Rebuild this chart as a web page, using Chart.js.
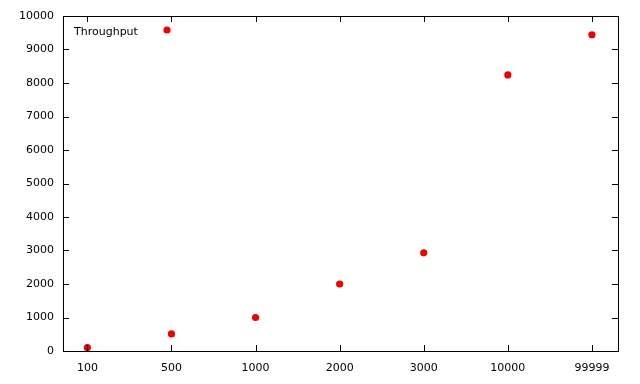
<!DOCTYPE html>
<html>
<head>
<meta charset="utf-8">
<script src="https://cdn.jsdelivr.net/npm/chart.js@4/dist/chart.umd.min.js"></script>
<style>
  html, body { margin: 0; padding: 0; background: #fff; }
  #wrap { width: 640px; height: 384px; }
</style>
</head>
<body>
<div id="wrap"><canvas id="chart" width="640" height="384"></canvas></div>
<script>
const categories = ["100", "500", "1000", "2000", "3000", "10000", "99999"]
const throughput = [100, 510, 1000, 2000, 2930, 8240, 9440]
const yTicks = [0, 1000, 2000, 3000, 4000, 5000, 6000, 7000, 8000, 9000, 10000]
const seriesLabel = "Throughput"

const FONT = { family: "'DejaVu Sans', sans-serif", size: 11 }
const RED = '#f00000'

// gnuplot style frame with inward ticks on all sides, plus key in the corner
const framePlugin = {
  id: 'frame',
  afterDraw(chart) {
    const { ctx, chartArea: a, scales } = chart
    ctx.save()
    ctx.strokeStyle = '#000'
    ctx.lineWidth = 1
    ctx.strokeRect(Math.round(a.left) + 0.5, Math.round(a.top) + 0.5,
      Math.round(a.right - a.left), Math.round(a.bottom - a.top))
    const len = 6
    ctx.beginPath()
    categories.forEach((c, i) => {
      const x = Math.round(scales.x.getPixelForValue(i)) + 0.5
      ctx.moveTo(x, a.bottom); ctx.lineTo(x, a.bottom - len)
      ctx.moveTo(x, a.top); ctx.lineTo(x, a.top + len)
    })
    yTicks.forEach(v => {
      const y = Math.round(scales.y.getPixelForValue(v)) + 0.5
      ctx.moveTo(a.left, y); ctx.lineTo(a.left + len, y)
      ctx.moveTo(a.right, y); ctx.lineTo(a.right - len, y)
    })
    ctx.stroke()

    // key
    ctx.font = FONT.size + 'px ' + FONT.family
    ctx.fillStyle = '#000'
    ctx.textBaseline = 'middle'
    ctx.textAlign = 'left'
    ctx.fillText(seriesLabel, a.left + 11, a.top + 16)
    ctx.fillStyle = RED
    ctx.beginPath()
    ctx.arc(a.left + 104, a.top + 14, 3.6, 0, Math.PI * 2)
    ctx.fill()
    ctx.restore()
  }
}

new Chart(document.getElementById('chart'), {
  type: 'scatter',
  data: {
    datasets: [{
      label: seriesLabel,
      data: throughput.map((v, i) => ({ x: i, y: v })),
      backgroundColor: RED,
      borderColor: RED,
      pointRadius: 3.6,
      pointBorderWidth: 0
    }]
  },
  options: {
    responsive: false,
    animation: false,
    layout: { padding: { top: 16, right: 22, left: 0, bottom: 0 } },
    plugins: { legend: { display: false }, tooltip: { enabled: false } },
    scales: {
      x: {
        type: 'linear',
        min: -0.29,
        max: 6.31,
        afterBuildTicks: s => { s.ticks = categories.map((c, i) => ({ value: i })) },
        afterFit: s => { s.height = 33 },
        grid: { display: false, drawTicks: false },
        border: { display: false },
        ticks: {
          color: '#000',
          font: FONT,
          padding: 11,
          maxRotation: 0,
          autoSkip: false,
          callback: v => categories[v]
        }
      },
      y: {
        min: 0,
        max: 10000,
        afterBuildTicks: s => { s.ticks = yTicks.map(v => ({ value: v })) },
        afterFit: s => { s.width = 63 },
        grid: { display: false, drawTicks: false },
        border: { display: false },
        ticks: { color: '#000', font: FONT, padding: 9, callback: v => String(v) }
      }
    }
  },
  plugins: [framePlugin]
})
</script>
</body>
</html>
